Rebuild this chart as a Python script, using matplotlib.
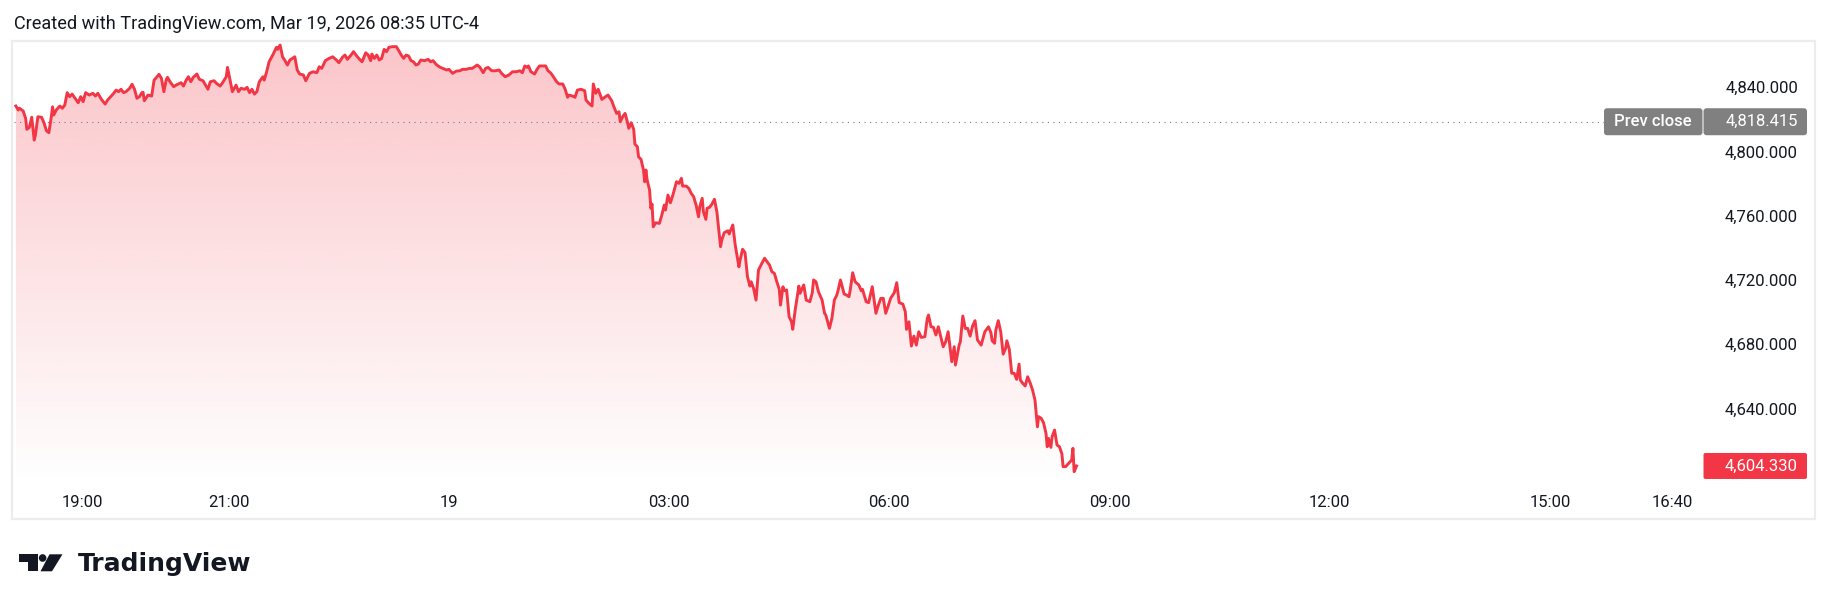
import numpy as np
import matplotlib.pyplot as plt
from matplotlib.patches import Rectangle, FancyBboxPatch, Circle, Polygon

# canvas in pixels (dpi 100)
W, H = 1830, 611

# minutes after 18:00 (Mar 18) and last price
t_evening = [6, 8, 9, 12, 14, 15, 17, 19, 21, 22, 24, 27, 29, 31, 33, 35, 36, 37, 39, 42,
             44, 46, 48, 50, 52, 55, 57, 59, 61, 63, 66, 69, 71, 73, 76, 79, 81, 83, 86, 88,
             90, 92, 94, 96, 99, 101, 103, 105, 107, 109, 110, 111, 114, 117, 119, 121, 123, 125, 127, 129,
             130, 132, 135, 137, 141, 143, 145, 147, 149, 151, 154, 156, 159, 161, 163, 165, 168, 170, 173, 175,
             178, 179, 181, 183, 185, 186, 188, 190, 193, 195, 197, 199, 201, 203, 205, 208, 209, 211, 213, 216,
             218, 219, 220, 222, 224, 226, 228, 230, 232, 234, 236, 238]
p_evening = [4828.2, 4825.7, 4826.8, 4825.1, 4820.5, 4813.7, 4814.9, 4821.2, 4807.0, 4810.1,
             4821.5, 4821.2, 4817.8, 4812.8, 4811.6, 4821.5, 4827.7, 4822.6, 4825.7, 4828.2,
             4826.8, 4828.8, 4836.5, 4834.0, 4835.6, 4832.3, 4830.2, 4834.0, 4830.9, 4836.5,
             4835.0, 4836.1, 4834.4, 4836.1, 4832.3, 4829.4, 4831.9, 4833.6, 4836.1, 4838.1,
             4837.1, 4838.6, 4836.5, 4837.1, 4839.2, 4841.7, 4838.6, 4833.0, 4834.0, 4836.5,
             4836.7, 4831.5, 4835.0, 4834.4, 4844.3, 4846.0, 4847.9, 4845.4, 4837.1, 4844.8,
             4846.0, 4843.3, 4840.2, 4841.2, 4842.7, 4840.6, 4843.9, 4846.4, 4843.3, 4846.0,
             4848.1, 4844.8, 4843.9, 4841.2, 4838.6, 4843.3, 4843.9, 4842.3, 4840.6, 4842.7,
             4846.4, 4852.2, 4844.8, 4837.1, 4839.8, 4841.2, 4837.1, 4839.2, 4838.6, 4839.8,
             4836.5, 4838.6, 4835.6, 4837.1, 4843.3, 4846.4, 4844.3, 4849.5, 4855.7, 4859.9,
             4863.0, 4864.7, 4863.4, 4866.1, 4858.8, 4856.4, 4853.7, 4856.8, 4857.8, 4858.8,
             4850.6, 4848.1]

t_night = [241, 243, 246, 249, 252, 254, 256, 259, 262, 265, 268, 270, 273, 275, 277, 280, 282, 284, 287, 289,
           292, 294, 296, 297, 299, 301, 303, 305, 307, 309, 311, 314, 317, 319, 321, 323, 325, 327, 329, 331,
           333, 335, 337, 340, 343, 345, 347, 350, 353, 355, 358, 360, 363, 366, 369, 371, 374, 377, 379, 382,
           383, 385, 388, 390, 392, 395, 398, 401, 403, 406, 409, 412, 415, 418, 420, 422, 424, 425, 427, 430,
           432, 434, 437, 439, 441, 443, 445, 448, 450, 453, 455, 457, 458, 461, 463, 465, 468, 471, 472, 475,
           477, 478, 480, 482]
p_night = [4847.5, 4843.9, 4848.5, 4849.5, 4848.9, 4852.6, 4851.6, 4856.4, 4857.8, 4858.8,
           4856.8, 4855.1, 4858.5, 4859.9, 4857.2, 4859.9, 4862.0, 4859.9, 4857.2, 4855.7,
           4861.3, 4859.9, 4856.4, 4860.5, 4857.8, 4859.9, 4856.8, 4857.8, 4863.4, 4862.0,
           4864.7, 4865.1, 4865.1, 4862.6, 4859.9, 4857.8, 4859.9, 4859.3, 4856.4, 4855.7,
           4853.7, 4854.3, 4856.8, 4856.4, 4857.2, 4855.7, 4856.4, 4853.7, 4852.2, 4851.6,
           4850.6, 4851.0, 4848.5, 4849.9, 4850.1, 4851.0, 4851.0, 4851.6, 4851.6, 4853.1,
           4853.7, 4852.6, 4848.9, 4851.6, 4852.2, 4850.1, 4850.1, 4850.6, 4848.5, 4846.4,
           4847.5, 4849.5, 4849.5, 4850.1, 4848.9, 4853.1, 4852.2, 4853.1, 4849.5, 4848.1,
           4851.0, 4853.1, 4853.1, 4853.1, 4850.1, 4848.9, 4846.8, 4843.3, 4841.9, 4841.9,
           4838.6, 4833.6, 4835.0, 4834.4, 4833.6, 4838.1, 4838.6, 4837.7, 4831.9, 4829.4,
           4828.2, 4841.9, 4836.1, 4838.6]

t_morning = [485, 488, 490, 493, 495, 497, 499, 500, 502, 504, 506, 507, 509, 511, 512, 514, 515, 517, 519, 520,
             521, 522, 524, 525, 526, 527, 529, 532, 534, 536, 537, 539, 541, 543, 546, 548, 550, 551, 554, 556,
             558, 560, 562, 564, 565, 567, 568, 570, 571, 573, 575, 577, 579, 580, 582, 583, 585, 588, 589, 592,
             594, 597, 598, 600, 602, 604, 606, 607, 609, 611, 613, 616, 618, 619, 622, 624, 626, 628, 630, 631,
             633, 634, 636, 638, 640, 641, 643, 646, 647, 650, 652, 655, 657, 658, 660, 662, 665, 667, 668, 671,
             673, 675, 677, 678, 680, 683, 685, 687, 688, 690, 692, 695, 697, 698, 701, 703, 706, 709, 711, 713,
             715, 717, 719, 721, 724, 726, 727, 728, 731, 733, 734, 736, 738, 740, 742, 744, 746, 749, 751, 752,
             754, 756, 758, 760, 762, 764, 766, 768, 771, 773, 774, 777, 778, 780, 782, 784, 786, 788, 790, 792,
             795, 798, 801, 803, 804, 806, 807, 809, 811, 812, 813, 815, 816, 818, 820, 822, 824, 826, 827, 829,
             831, 833, 835, 837, 839, 841, 842, 844, 846, 848, 849, 850, 852, 853, 855, 857, 859, 861, 862, 864,
             866, 869, 870, 871, 873]
p_morning = [4832.3, 4834.0, 4835.0, 4831.5, 4827.4, 4823.6, 4824.6, 4818.4, 4821.5, 4823.6,
             4817.8, 4814.3, 4817.8, 4813.7, 4804.5, 4802.9, 4796.6, 4795.0, 4788.4, 4781.1,
             4788.4, 4782.2, 4775.9, 4764.6, 4767.2, 4753.1, 4755.6, 4755.2, 4760.4, 4766.6,
             4763.5, 4772.8, 4768.0, 4772.8, 4781.1, 4780.1, 4783.2, 4778.4, 4778.4, 4777.0,
             4773.9, 4771.8, 4766.6, 4759.3, 4765.6, 4770.8, 4762.4, 4757.7, 4764.6, 4765.2,
             4767.2, 4770.2, 4762.4, 4755.2, 4740.7, 4744.8, 4749.4, 4750.6, 4748.6, 4754.2,
             4741.7, 4728.2, 4732.4, 4739.1, 4737.0, 4722.0, 4716.2, 4718.9, 4714.8, 4707.5,
             4726.2, 4730.7, 4733.5, 4732.4, 4729.3, 4725.1, 4724.1, 4718.9, 4714.2, 4704.4,
             4715.8, 4713.3, 4713.8, 4697.2, 4694.0, 4689.3, 4701.3, 4716.2, 4711.7, 4716.9,
             4707.5, 4706.5, 4712.1, 4720.0, 4718.9, 4712.7, 4707.5, 4699.3, 4698.2, 4689.9,
             4696.2, 4707.5, 4710.6, 4713.3, 4720.0, 4711.3, 4710.6, 4709.6, 4713.8, 4724.5,
             4718.9, 4716.9, 4713.3, 4714.2, 4706.5, 4705.9, 4715.8, 4699.3, 4704.4, 4708.6,
             4708.6, 4699.3, 4703.8, 4708.6, 4712.1, 4718.3, 4712.1, 4705.9, 4705.0, 4700.3,
             4689.3, 4694.0, 4678.9, 4685.1, 4679.5, 4687.8, 4684.3, 4684.7, 4696.2, 4698.2,
             4690.9, 4690.6, 4685.8, 4690.9, 4684.7, 4678.5, 4681.6, 4687.8, 4669.2, 4678.5,
             4667.1, 4679.5, 4681.6, 4697.6, 4689.9, 4689.9, 4685.1, 4691.4, 4694.7, 4682.7,
             4679.5, 4687.8, 4690.9, 4687.2, 4682.2, 4680.6, 4688.9, 4694.7, 4687.8, 4681.0,
             4673.9, 4677.5, 4682.2, 4676.9, 4662.0, 4662.0, 4658.2, 4667.7, 4657.8, 4655.7,
             4654.1, 4659.8, 4656.1, 4651.6, 4645.3, 4628.7, 4635.0, 4634.0, 4631.2, 4624.6,
             4616.3, 4621.5, 4615.9, 4622.5, 4626.7, 4617.4, 4616.3, 4611.8, 4603.9, 4603.9,
             4605.5, 4608.0, 4615.3, 4600.8, 4604.33]

prev_close = 4818.415
last_price = 4604.33

price_ticks = [4640, 4680, 4720, 4760, 4800, 4840]
time_ticks = [60, 180, 360, 540, 720, 900, 1080, 1260, 1360]
time_labels = ["19:00", "21:00", "19", "03:00", "06:00", "09:00", "12:00", "15:00", "16:40"]

minutes = np.array(t_evening + t_night + t_morning, dtype=float)
prices = np.array(p_evening + p_night + p_morning)

RED = "#f23645"
INK = "#131722"
GREY_TAG = "#808080"
FONT = "Roboto"

# pane position (pixels)
PL, PT, PR, PB = 14, 42, 1703, 485
XLIM = (4.5, 1385.0)
YLIM = (4592.5, 4868.0)
px_per_unit = (PB - PT) / (YLIM[1] - YLIM[0])

fig = plt.figure(figsize=(W / 100, H / 100), dpi=100)
fig.patch.set_facecolor("white")

# decoration layer in pixel coordinates (frame, header, logo)
deco = fig.add_axes([0, 0, 1, 1])
deco.set_xlim(0, W)
deco.set_ylim(H, 0)
deco.axis("off")
deco.add_patch(Rectangle((12, 41), 1815 - 12, 519 - 41, fill=False, ec="#ececec", lw=1.6))
deco.text(14, 24, "Created with TradingView.com, Mar 19, 2026 08:35 UTC-4", ha="left", va="center",
          fontsize=13.1, color=INK, family=FONT)

# TradingView logo mark
deco.add_patch(Rectangle((18.5, 554.3), 19, 8, fc="#131722", ec="none"))
deco.add_patch(Rectangle((27.5, 554.3), 10, 17, fc="#131722", ec="none"))
deco.add_patch(Circle((42.6, 558.0), 3.8, fc="#131722", ec="none"))
deco.add_patch(Polygon([(49.5, 554.3), (62.5, 554.3), (52, 571.3), (40.5, 571.3)], closed=True,
                       fc="#131722", ec="none"))
deco.text(78, 571.5, "TradingView", ha="left", va="baseline", fontsize=18, fontweight="bold",
          color="#131722", family="DejaVu Sans")

# main pane
ax = fig.add_axes([PL / W, 1 - PB / H, (PR - PL) / W, (PB - PT) / H])
ax.set_facecolor("none")
ax.set_xlim(*XLIM)
ax.set_ylim(*YLIM)
for s in ax.spines.values():
    s.set_visible(False)

# gradient area under the line
area = ax.fill_between(minutes, prices, YLIM[0], color="none", lw=0)
grad = np.zeros((256, 1, 4))
grad[..., 0] = 242 / 255
grad[..., 1] = 54 / 255
grad[..., 2] = 69 / 255
grad[:, 0, 3] = np.linspace(0.29, 0.0, 256)
im = ax.imshow(grad, extent=[XLIM[0], XLIM[1], YLIM[0], YLIM[1]], origin="upper",
               aspect="auto", zorder=1, interpolation="bilinear")
im.set_clip_path(area.get_paths()[0], transform=ax.transData)

ax.plot(minutes, prices, color=RED, lw=2.1, solid_joinstyle="round", zorder=3)

# previous close dotted line (stops at its tag)
ax.axhline(prev_close, xmin=0, xmax=(1604 - PL) / (PR - PL), color="#787b86", lw=0.8,
           ls=(0, (1, 4)), zorder=2)

ax.set_yticks(price_ticks)
ax.set_yticklabels([f"{v:,.3f}" for v in price_ticks])
ax.tick_params(axis="y", length=0, pad=68.4, labelright=True, labelleft=False,
               labelsize=12, labelcolor=INK)
for lab in ax.get_yticklabels():
    lab.set_ha("right")
    lab.set_family(FONT)

ax.set_xticks(time_ticks)
ax.set_xticklabels(time_labels)
ax.tick_params(axis="x", length=0, pad=7, labelsize=12, labelcolor=INK)
for lab in ax.get_xticklabels():
    lab.set_family(FONT)

# price scale tags
tags = fig.add_axes([PR / W, 1 - PB / H, (1815 - PR) / W, (PB - PT) / H])
tags.set_xlim(0, 1815 - PR)
tags.set_ylim(*YLIM)
tags.axis("off")

h_pc = 27 / px_per_unit
tags.add_patch(FancyBboxPatch((-99, prev_close - h_pc / 2), 98.5, h_pc,
                              boxstyle="round,pad=0,rounding_size=3", mutation_aspect=1 / px_per_unit,
                              fc=GREY_TAG, ec="none", clip_on=False))
tags.add_patch(FancyBboxPatch((0.5, prev_close - h_pc / 2), 103.5, h_pc,
                              boxstyle="round,pad=0,rounding_size=3", mutation_aspect=1 / px_per_unit,
                              fc=GREY_TAG, ec="none", clip_on=False))
tags.text(-50, prev_close, "Prev close", ha="center", va="center", color="white",
          fontsize=12, family=FONT, fontweight="medium", clip_on=False)
tags.text(95, prev_close, f"{prev_close:,.3f}", ha="right", va="center", color="white",
          fontsize=12, family=FONT, clip_on=False)

h_last = 26 / px_per_unit
tags.add_patch(FancyBboxPatch((0.5, last_price - h_last / 2), 103.5, h_last,
                              boxstyle="round,pad=0,rounding_size=2", mutation_aspect=1 / px_per_unit,
                              fc=RED, ec="none", clip_on=False))
tags.text(95, last_price, f"{last_price:,.3f}", ha="right", va="center", color="white",
          fontsize=12, family=FONT, clip_on=False)

fig.savefig("out.png", dpi=100, facecolor="white")
